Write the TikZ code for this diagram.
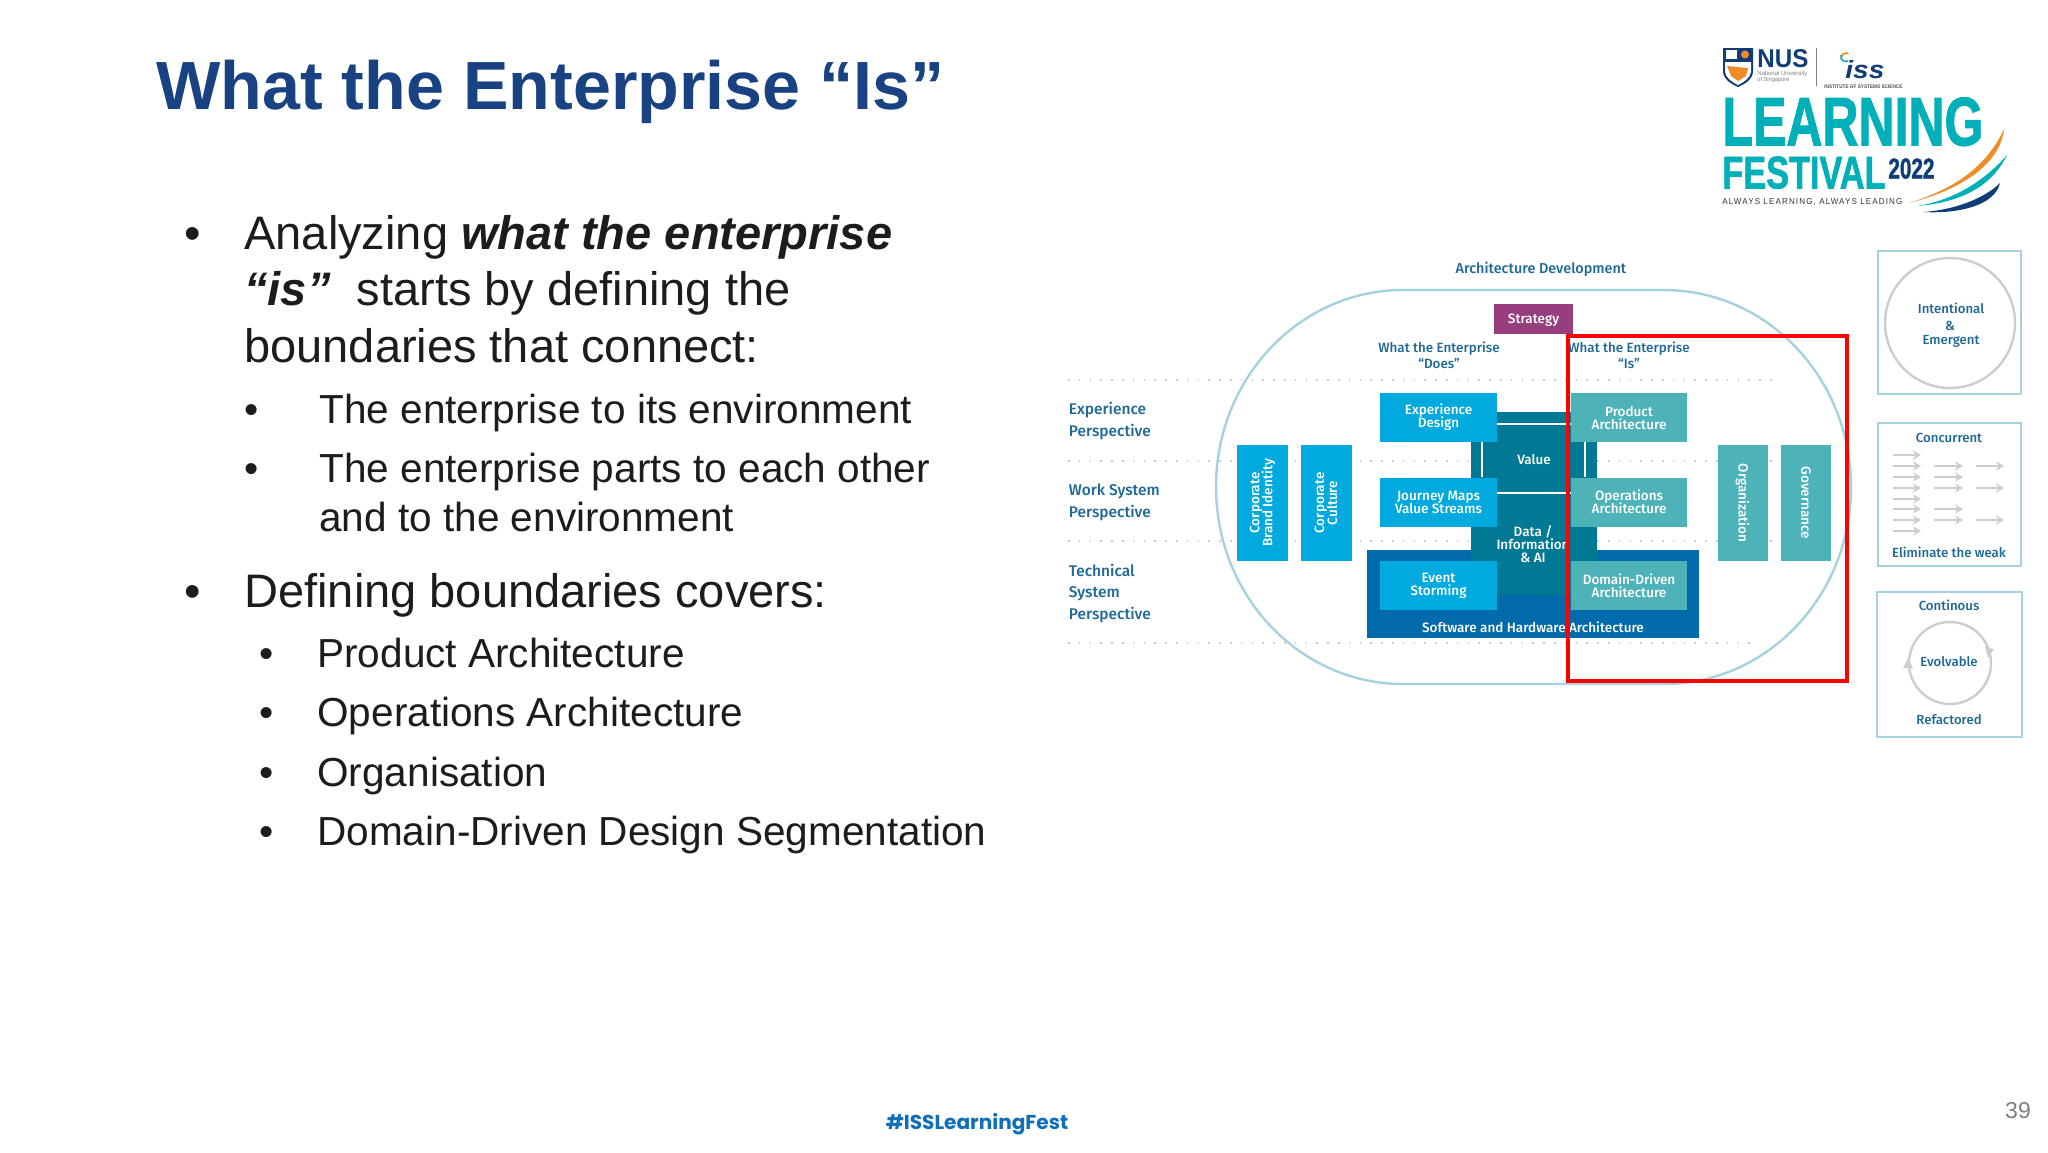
\documentclass[tikz,border=0pt]{standalone}
\usepackage{xcolor}
\usepackage{fontspec}
\setmainfont{Liberation Sans}
\newfontfamily\ubufont[UprightFont=* Medium]{Fira Sans}
\newfontfamily\logofont[FakeBold=1.6]{Liberation Sans Bold}
\newfontfamily\mottofont[LetterSpace=14]{Liberation Sans}
\newfontfamily\tagfont{Poppins}
\newcommand{\tightlines}{\lineskiplimit=-5pt\relax}
\usetikzlibrary{arrows.meta, positioning, calc}
\definecolor{mytitle}{RGB}{24,66,130}
\definecolor{mytext}{RGB}{28,28,28}
\definecolor{myblue}{RGB}{0,170,222}
\definecolor{myteal}{RGB}{78,179,184}
\definecolor{mydeep}{RGB}{0,122,148}
\definecolor{myhw}{RGB}{0,106,170}
\definecolor{mystrategy}{RGB}{150,62,126}
\definecolor{myring}{RGB}{165,210,222}
\definecolor{mylabel}{RGB}{30,105,150}
\definecolor{mygrey}{RGB}{205,205,205}
\definecolor{mynavy}{RGB}{16,60,120}
\definecolor{myfest}{RGB}{0,176,185}
\definecolor{myorange}{RGB}{240,140,40}
\definecolor{mytag}{RGB}{15,110,185}
\tikzset{
  titletext/.style={anchor=base west, inner sep=0pt, font=\fontsize{34.1}{34}\selectfont\bfseries, color=mytitle},
  bodyone/.style={anchor=base west, inner sep=0pt, font=\fontsize{23.5}{23.5}\selectfont, color=mytext},
  bodytwo/.style={anchor=base west, inner sep=0pt, font=\fontsize{20.27}{20.27}\selectfont, color=mytext},
  box/.style={rectangle, inner sep=0pt, text=white, align=center,
    font=\ubufont\fontsize{6.75}{6.5}\selectfont\tightlines},
  bluebox/.style={box, fill=myblue, minimum width=58.5pt, minimum height=24.5pt},
  tealbox/.style={box, fill=myteal, minimum width=58pt, minimum height=24.5pt},
  sidebox/.style={box, fill=myblue, minimum width=58pt, minimum height=25.5pt},
  plainlabel/.style={inner sep=0pt, align=center, color=mylabel, font=\ubufont\fontsize{6.6}{8}\selectfont},
  viewlabel/.style={anchor=base west, inner sep=0pt, color=mylabel, font=\ubufont\fontsize{7.75}{7.8}\selectfont},
  whitetext/.style={inner sep=0pt, align=center, text=white, font=\ubufont\fontsize{6.75}{6.5}\selectfont\tightlines},
  panel/.style={draw=myring, line width=1.4pt},
  dotline/.style={color=mygrey, line width=0.8pt, dash pattern=on 0.8pt off 4.6pt},
  greyarrow/.style={-{Stealth[length=4pt,width=4.6pt]}, color=mygrey, line width=1.3pt},
  logotext/.style={inner sep=0pt, anchor=north west, font=\logofont}
}
\begin{document}
\begin{tikzpicture}[x=0.5pt,y=-0.5pt]
  \useasboundingbox (0,0) rectangle (2048,1152);
  \fill[white] (0,0) rectangle (2048,1152);

  % Slide text
  \node[titletext] (slidetitle) at (156,109) {What the Enterprise “Is”};
  \node[bodyone] (bulone) at (184,249) {•};
  \node[bodyone] (lineone) at (244,249) {Analyzing \textbf{\textit{what the enterprise}}};
  \node[bodyone] (linetwo) at (244,305) {\textbf{\textit{“is”}}\hspace{0.28em} starts by defining the};
  \node[bodyone] (linethree) at (244,362) {boundaries that connect:};
  \node[bodytwo] (subone) at (244,423) {•};
  \node[bodytwo] (subonetext) at (319,423) {The enterprise to its environment};
  \node[bodytwo] (subtwo) at (244,482) {•};
  \node[bodytwo] (subtwotext) at (319,482) {The enterprise parts to each other};
  \node[bodytwo] (subthree) at (319,531) {and to the environment};
  \node[bodyone] (bultwo) at (184,607) {•};
  \node[bodyone] (linefour) at (244,607) {Defining boundaries covers:};
  \foreach \yy/\nm/\txt in {667/itemone/Product Architecture, 726/itemtwo/Operations Architecture,
      786/itemthree/Organisation, 845/itemfour/Domain-Driven Design Segmentation} {
    \node[bodytwo] (\nm dot) at (259,\yy) {•};
    \node[bodytwo] (\nm) at (317,\yy) {\txt};
  }
  \node[color=mytag, inner sep=0pt, font=\tagfont\fontsize{10.05}{10.05}\selectfont\bfseries] (hashtag) at (977,1124) {\#ISSLearningFest};
  \node[color=gray, inner sep=0pt, font=\fontsize{11.5}{11.5}\selectfont] (pagenum) at (2018,1111) {39};

  % Logo
  \node[logotext, color=myfest] (learning) at (1722,97) {\resizebox{130.5pt}{24pt}{LEARNING}};
  \node[logotext, color=myfest] (festival) at (1722,156) {\resizebox{81.5pt}{16pt}{FESTIVAL}};
  \node[logotext, color=mynavy] (year) at (1888,158) {\resizebox{23pt}{10pt}{2022}};
  \node[logotext, color=black!80, font=\mottofont] (motto) at (1722,198) {\resizebox{90pt}{3pt}{ALWAYS LEARNING, ALWAYS LEADING}};
  \fill[myorange] (1909,203) .. controls (1950,190) and (1985,170) .. (2004,129) .. controls (2000,165) and (1960,190) .. cycle;
  \fill[myfest] (1917,206) .. controls (1955,200) and (1985,180) .. (2007,155) .. controls (1990,190) and (1955,203) .. cycle;
  \fill[mynavy] (1923,212) .. controls (1955,210) and (1985,198) .. (2000,183) .. controls (1995,205) and (1960,214) .. cycle;
  \fill[mynavy] (1723,48) -- (1753,48) -- (1753,72) .. controls (1752,80) and (1745,84) .. (1738,87) .. controls (1731,84) and (1724,80) .. (1723,72) -- cycle;
  \fill[white] (1725,62) -- (1751,62) -- (1751,72) .. controls (1750,78) and (1744,82) .. (1738,85) .. controls (1732,82) and (1726,78) .. (1725,72) -- cycle;
  \fill[white] (1726,50) rectangle (1737,59);
  \fill[myorange] (1745,54.5) circle[radius=4];
  \fill[myorange] (1727,66) -- (1748,68) -- (1746,76) -- (1738,81) -- (1731,76) -- cycle;
  \node[logotext, color=mynavy, font=\bfseries] (nus) at (1757,49) {\resizebox{25.5pt}{9pt}{NUS}};
  \node[logotext, color=gray, font=\mdseries] (nusone) at (1757,71) {\resizebox{25pt}{2.2pt}{National University}};
  \node[logotext, color=gray, font=\mdseries] (nustwo) at (1757,77) {\resizebox{16pt}{2.2pt}{of Singapore}};
  \draw[color=gray, line width=0.4pt] (1816,48) -- (1816,86);
  \node[logotext, color=mynavy, font=\bfseries\itshape] (iss) at (1845,60) {\resizebox{19.5pt}{9pt}{iss}};
  \node[logotext, color=gray!60!black, font=\bfseries] (issname) at (1824,84) {\resizebox{39pt}{1.8pt}{INSTITUTE OF SYSTEMS SCIENCE}};
  \draw[myorange, line width=0.8pt] (1841,58) arc[start angle=180,end angle=300,radius=5];
  \draw[myfest, line width=0.8pt] (1841,55) arc[start angle=200,end angle=60,radius=5];

  % Architecture diagram
  \node[plainlabel, font=\ubufont\fontsize{7.2}{8}\selectfont] (archtitle) at (1541,269) {Architecture Development};
  \draw[dotline] (1068,380) -- (1780,380);
  \draw[dotline] (1068,461) -- (1780,461);
  \draw[dotline] (1068,541) -- (1780,541);
  \draw[dotline] (1068,643) -- (1759,643);
  \draw[color=myring, line width=1.2pt] (1403,290) -- (1664,290)
    arc[start angle=-90, end angle=90, x radius=187, y radius=197] -- (1403,684)
    arc[start angle=90, end angle=270, x radius=187, y radius=197];
  \node[box, fill=mystrategy, minimum width=39.5pt, minimum height=15pt, text height=5.8pt, text depth=1.6pt] (strategy) at (1533.5,319) {Strategy};
  \node[plainlabel, font=\ubufont\fontsize{6.7}{8}\selectfont] (doeslabel) at (1439,355) {What the Enterprise\\“Does”};
  \node[plainlabel, font=\ubufont\fontsize{6.7}{8}\selectfont] (islabel) at (1629,355) {What the Enterprise\\“Is”};
  \node[viewlabel] (viewone) at (1068.5,414) {Experience};
  \node[viewlabel] (viewtwo) at (1068.5,436) {Perspective};
  \node[viewlabel] (viewthree) at (1068.5,495) {Work System};
  \node[viewlabel] (viewfour) at (1068.5,517) {Perspective};
  \node[viewlabel] (viewfive) at (1068.5,576) {Technical};
  \node[viewlabel] (viewsix) at (1068.5,597) {System};
  \node[viewlabel] (viewseven) at (1068.5,619) {Perspective};

  % Central blocks
  \fill[myhw] (1367,550) rectangle (1699,638);
  \fill[mydeep] (1471,412) rectangle (1597,595);
  \draw[white, line width=0.8pt] (1497,424) -- (1571,424);
  \draw[white, line width=0.8pt] (1497,493) -- (1571,493);
  \draw[white, line width=0.8pt] (1482,442) -- (1482,477);
  \draw[white, line width=0.8pt] (1585,442) -- (1585,477);
  \node[whitetext] (valuetext) at (1534,459) {Value};
  \node[whitetext] (datatext) at (1533,544) {Data /\\Information\\\& AI};
  \node[whitetext] (hwtext) at (1533,627) {Software and Hardware Architecture};
  \node[bluebox] (expdesign) at (1438.5,417.5) {Experience\\Design};
  \node[bluebox] (journey) at (1438.5,502) {Journey Maps\\Value Streams};
  \node[bluebox] (eventstorm) at (1438.5,585.5) {Event\\Storming};
  \node[tealbox] (product) at (1629,417.5) {Product\\Architecture};
  \node[tealbox] (operations) at (1629,502) {Operations\\Architecture};
  \node[tealbox] (domain) at (1629,585.5) {Domain-Driven\\Architecture};
  \node[sidebox, rotate=90] (brand) at (1262.5,503) {Corporate\\Brand Identity};
  \node[sidebox, rotate=90] (culture) at (1326,503) {Corporate\\Culture};
  \node[sidebox, rotate=-90, fill=myteal, minimum height=25pt] (organization) at (1742.5,503) {Organization};
  \node[sidebox, rotate=-90, fill=myteal, minimum height=25pt] (governance) at (1806,503) {Governance};

  % Red frame
  \draw[color=red, line width=2pt] (1568,336) rectangle (1847,681);

  % Side panels
  \draw[panel] (1878,251) rectangle (2021,394);
  \draw[color=mygrey, line width=1.2pt] (1950,323) circle[x radius=65, y radius=65];
  \node[plainlabel] (intent) at (1951,308) {Intentional};
  \node[plainlabel] (andtext) at (1950,326) {\&};
  \node[plainlabel] (emergent) at (1951,341) {Emergent};

  \draw[panel] (1878,423) rectangle (2021,566);
  \node[plainlabel] (concurrent) at (1949,438) {Concurrent};
  \node[plainlabel] (eliminate) at (1949,552) {Eliminate the weak};
  \foreach \yy in {455,466,477,488,499,509,520,531}
    \draw[greyarrow] (1893,\yy) -- (1921,\yy);
  \foreach \yy in {466,477,488,509,520}
    \draw[greyarrow] (1934,\yy) -- (1963,\yy);
  \foreach \yy in {466,488,520}
    \draw[greyarrow] (1976,\yy) -- (2004,\yy);

  \draw[panel] (1877,592) rectangle (2022,737);
  \node[plainlabel] (continous) at (1949,605) {Continous};
  \draw[color=mygrey, line width=1.2pt] (1950,663) circle[x radius=41, y radius=41];
  \fill[mygrey] (1985,647) -- (1994,649) -- (1988,658) -- cycle;
  \fill[mygrey] (1908,658) -- (1903,668) -- (1913,668) -- cycle;
  \node[plainlabel] (evolvable) at (1949,662) {Evolvable};
  \node[plainlabel] (refactored) at (1949,720) {Refactored};
\end{tikzpicture}
\end{document}
